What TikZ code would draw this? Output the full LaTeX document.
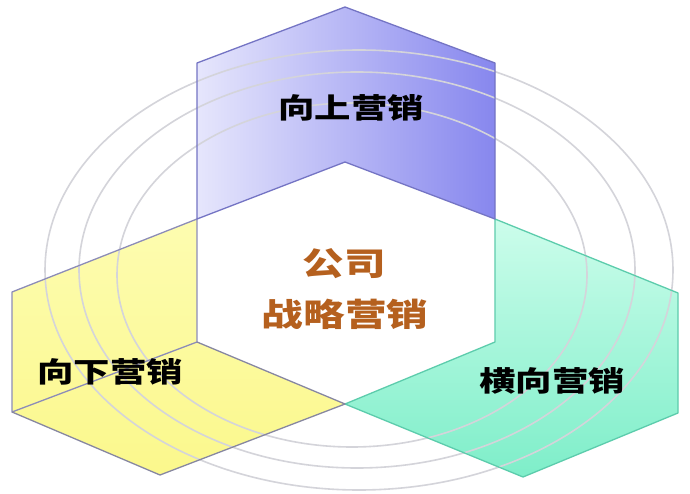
\documentclass[tikz,border=0pt]{standalone}
\usepackage{fontspec}
\newfontfamily\cjk{Noto Sans CJK SC}
\definecolor{topL}{HTML}{E6E6FC}
\definecolor{topR}{HTML}{8787EE}
\definecolor{topE}{HTML}{7474C4}
\definecolor{yelT}{HTML}{FDFCB0}
\definecolor{yelB}{HTML}{FBF88C}
\definecolor{yelE}{HTML}{8C8CB8}
\definecolor{grnT}{HTML}{CCFDEB}
\definecolor{grnB}{HTML}{7EEEC9}
\definecolor{grnE}{HTML}{5CCCAC}
\definecolor{ringC}{HTML}{D4D4DA}
\definecolor{brownT}{HTML}{B5601E}
\tikzset{
  ring/.style={draw=ringC, line width=1.6pt},
  edgeline/.style={line width=1.3pt, line join=round},
  bigtext/.style={font=\cjk\bfseries\fontsize{28}{30}\selectfont, text=black, inner sep=0pt},
  centertext/.style={font=\cjk\bfseries\fontsize{32}{34}\selectfont, text=brownT, inner sep=0pt}
}
\begin{document}
\begin{tikzpicture}[x=1pt,y=-1pt]
\useasboundingbox (0,0) rectangle (690,494);
\fill[white] (0,0) rectangle (690,494);
% colored shapes
\shade[left color=topL, right color=topR] (197,63) -- (345,7) -- (495,63) -- (495,219) -- (345,162) -- (197,219) -- cycle;
\shade[top color=yelT, bottom color=yelB] (12,292) -- (197,219) -- (197,342) -- (345,404) -- (160,475) -- (12,412) -- cycle;
\shade[top color=grnT, bottom color=grnB] (495,219) -- (678,293) -- (678,413) -- (523,477) -- (345,404) -- (495,342) -- cycle;
% rings
\draw[ring] (359,270) ellipse [x radius=314, y radius=220];
\draw[ring] (357,270) ellipse [x radius=278, y radius=198];
\draw[ring] (352,275) ellipse [x radius=235, y radius=172];
% center hexagon
\fill[white] (345,162) -- (495,219) -- (495,342) -- (345,404) -- (197,342) -- (197,219) -- cycle;
% outlines
\draw[edgeline, draw=grnE] (495,219) -- (678,293) -- (678,413) -- (523,477) -- (345,404) -- (495,342) -- cycle;
\draw[edgeline, draw=yelE] (197,342) -- (12,412) -- (12,292) -- (197,219) -- cycle;
\draw[edgeline, draw=yelE!60!gray] (197,342) -- (345,404) -- (160,475) -- (12,412);
\draw[edgeline, draw=topE] (197,63) -- (345,7) -- (495,63) -- (495,219) -- (345,162) -- (197,219) -- cycle;
% texts
\node[bigtext] (up) at (351,108) {\scalebox{1.3}[1]{向上营销}};
\node[bigtext] (down) at (110,372) {\scalebox{1.3}[1]{向下营销}};
\node[bigtext] (side) at (552,381) {\scalebox{1.3}[1]{横向营销}};
\node[centertext] (c1) at (344,264) {\scalebox{1.3}[1]{公司}};
\node[centertext] (c2) at (345,314) {\scalebox{1.3}[1]{战略营销}};
\end{tikzpicture}
\end{document}
